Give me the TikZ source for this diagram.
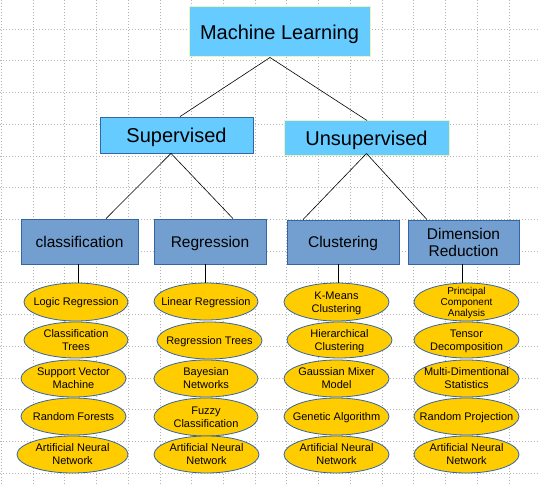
\documentclass[tikz,border=0pt]{standalone}
\usepackage{fontspec}
\setmainfont{Liberation Sans}
\usetikzlibrary{shapes.geometric}
\definecolor{topfill}{HTML}{66CCFF}
\definecolor{midfill}{HTML}{729FCF}
\definecolor{bluedge}{HTML}{3465A4}
\definecolor{paleedge}{HTML}{E8F5C0}
\definecolor{leaffill}{HTML}{FFCC00}
\definecolor{gridcol}{HTML}{B4B4B4}
\newcommand\lftext[1]{\makebox[0pt]{\raisebox{-4pt}[0pt][0pt]{\begin{tabular}{@{}c@{}}#1\end{tabular}}}}
\tikzset{
  topbox/.style={rectangle, fill=topfill, draw=paleedge, line width=1pt, inner sep=0pt,
    text depth=0pt, font=\fontsize{20}{24}\selectfont},
  supbox/.style={topbox, draw=bluedge, line width=0.8pt},
  midbox/.style={rectangle, fill=midfill, draw=bluedge, line width=0.8pt, inner sep=0pt,
    text depth=0pt, align=center, font=\fontsize{15.5}{17}\selectfont},
  leaf/.style={ellipse, fill=leaffill, draw=bluedge, line width=0.8pt, inner sep=0pt,
    font=\fontsize{11}{13}\selectfont},
  conn/.style={draw=black, line width=0.6pt},
  gridline/.style={draw=gridcol, line width=0.6pt, dash pattern=on 1pt off 2pt}
}
\begin{document}
\begin{tikzpicture}[x=1pt,y=-1pt]
\useasboundingbox (0,0) rectangle (539,486);
\fill[white] (0,0) rectangle (539,486);
% grid
\foreach \i in {0,...,16} {
  \pgfmathsetmacro{\gx}{1.3+31.72*\i}
  \draw[gridline] (\gx,0) -- (\gx,486);
}
\foreach \j in {1,...,15} {
  \pgfmathsetmacro{\gy}{-2.7+31.72*\j}
  \draw[gridline] (0,\gy) -- (539,\gy);
}
% top levels
\node[topbox, minimum width=181pt, minimum height=50pt] (ml) at (279.5,32) {Machine Learning};
\node[supbox, minimum width=153pt, minimum height=36pt] (sup) at (176.5,135) {Supervised};
\node[topbox, minimum width=165pt, minimum height=35pt] (uns) at (366.5,138.5) {Unsupervised};
% second level
\node[midbox, minimum width=117pt, minimum height=45pt] (cls) at (79.5,241.5) {classification};
\node[midbox, minimum width=112pt, minimum height=45pt] (reg) at (210,241.5) {Regression};
\node[midbox, minimum width=112pt, minimum height=44pt] (clu) at (343,242) {Clustering};
\node[midbox, minimum width=111pt, minimum height=44pt] (dim) at (463.5,242) {Dimension\\Reduction};
% connectors top
\draw[conn] ([xshift=-9.5pt]ml.south) -- ([xshift=3.5pt]sup.north);
\draw[conn] ([xshift=-9.5pt]ml.south) -- ([xshift=0.5pt]uns.north);
\draw[conn] ([xshift=-5.5pt]sup.south) -- ([xshift=26.5pt]cls.north);
\draw[conn] ([xshift=-5.5pt]sup.south) -- ([xshift=23pt]reg.north);
\draw[conn] ([yshift=3pt]uns.south) -- ([xshift=-40pt]clu.north);
\draw[conn] ([yshift=3pt]uns.south) -- ([xshift=-36.5pt]dim.north);
% leaves column 1
\node[leaf, minimum width=104pt, minimum height=38pt] (a1) at (76,302) {\lftext{Logic Regression}};
\node[leaf, minimum width=104pt, minimum height=36pt] (a2) at (76,340) {\lftext{Classification\\Trees}};
\node[leaf, minimum width=105pt, minimum height=37pt] (a3) at (73.5,378.5) {\lftext{Support Vector\\Machine}};
\node[leaf, minimum width=105pt, minimum height=37pt] (a4) at (73.5,416.5) {\lftext{Random Forests}};
\node[leaf, minimum width=111pt, minimum height=37pt] (a5) at (72.5,454.5) {\lftext{Artificial Neural\\Network}};
% column 2
\node[leaf, minimum width=104pt, minimum height=37pt] (b1) at (206,301.5) {\lftext{Linear Regression}};
\node[leaf, minimum width=105pt, minimum height=37pt] (b2) at (209.5,340.5) {\lftext{Regression Trees}};
\node[leaf, minimum width=104pt, minimum height=37pt] (b3) at (206,378.5) {\lftext{Bayesian\\Networks}};
\node[leaf, minimum width=104pt, minimum height=38pt] (b4) at (206,417) {\lftext{Fuzzy\\Classification}};
\node[leaf, minimum width=105pt, minimum height=37pt] (b5) at (206.5,454.5) {\lftext{Artificial Neural\\Network}};
% column 3
\node[leaf, minimum width=105pt, minimum height=38pt] (c1) at (336.5,302) {\lftext{K-Means\\Clustering}};
\node[leaf, minimum width=105pt, minimum height=36pt] (c2) at (339.5,340) {\lftext{Hierarchical\\Clustering}};
\node[leaf, minimum width=105pt, minimum height=37pt] (c3) at (336.5,378.5) {\lftext{Gaussian Mixer\\Model}};
\node[leaf, minimum width=105pt, minimum height=37pt] (c4) at (336.5,416.5) {\lftext{Genetic Algorithm}};
\node[leaf, minimum width=105pt, minimum height=37pt] (c5) at (336.5,454.5) {\lftext{Artificial Neural\\Network}};
% column 4
\node[leaf, minimum width=105pt, minimum height=38pt, font=\fontsize{10}{10.8}\selectfont] (d1) at (466.5,302) {\lftext{Principal\\Component\\Analysis}};
\node[leaf, minimum width=105pt, minimum height=36pt] (d2) at (466.5,340) {\lftext{Tensor\\Decomposition}};
\node[leaf, minimum width=105pt, minimum height=37pt] (d3) at (466.5,378.5) {\lftext{Multi-Dimentional\\Statistics}};
\node[leaf, minimum width=105pt, minimum height=37pt] (d4) at (466.5,416.5) {\lftext{Random Projection}};
\node[leaf, minimum width=105pt, minimum height=37pt] (d5) at (466.5,454.5) {\lftext{Artificial Neural\\Network}};
% stubs
\draw[conn] ([xshift=-1.5pt]cls.south) -- ([xshift=-1.5pt]cls.south |- a1.north);
\draw[conn] ([xshift=-5pt]reg.south) -- ([xshift=-5pt]reg.south |- b1.north);
\draw[conn] ([xshift=-5pt]clu.south) -- ([xshift=-5pt]clu.south |- c1.north);
\draw[conn] ([xshift=-1.5pt]dim.south) -- ([xshift=-1.5pt]dim.south |- d1.north);
\end{tikzpicture}
\end{document}
